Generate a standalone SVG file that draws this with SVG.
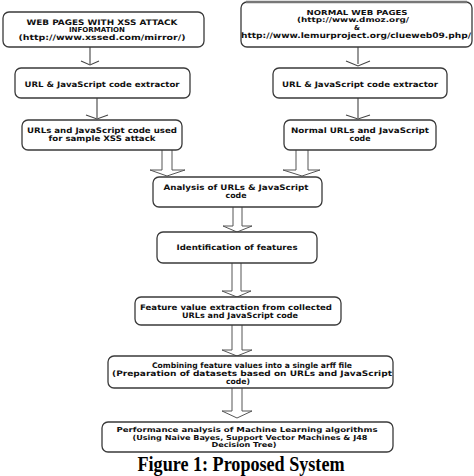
<svg xmlns="http://www.w3.org/2000/svg" width="474" height="476" viewBox="0 0 474 476">
<style>
.box{fill:#fff;stroke:#3a3a3a;stroke-width:1.3}
.t{font-family:"DejaVu Sans","Liberation Sans",sans-serif;font-weight:bold;font-size:7.6px;fill:#111;text-anchor:middle}
.s{font-size:6.8px}
.ln{fill:none;stroke:#444;stroke-width:1.1}
.blk{fill:#fff;stroke:#555;stroke-width:1}
.cap{font-family:"Liberation Serif","Times New Roman",serif;font-weight:bold;font-size:20px;fill:#000;text-anchor:middle}
</style>
<rect width="474" height="476" fill="#fff"/>
<g id="connectors">
  <path class="ln" d="M90,47 V64 M81,61 L90,65 L99,61"/>
  <path class="ln" d="M97,98 V118 M86,115 L97,119 L108,115"/>
  <path class="ln" d="M358,47 V64 M346,61 L358,66 L370,61"/>
  <path class="ln" d="M358,98 V118 M346,115 L358,119 L370,115"/>
  <path class="blk" d="M162,150 V170 H150 L167,176 L185,170 H172 V150"/>
  <path class="blk" d="M296,150 V170 H283 L302,176 L320,170 H308 V150"/>
  <path class="blk" d="M233,207 V226 H223 L237,232 L252,226 H242 V207"/>
  <path class="blk" d="M232,263 V291 H222 L237,297 L251,291 H241 V263"/>
  <path class="blk" d="M232,325 V350 H222 L237,356 L252,350 H242 V325"/>
  <path class="blk" d="M232,388 V411 H222 L237,418 L252,411 H242 V388"/>
</g>
<g id="n_xss_pages">
  <rect class="box" x="3" y="12" width="201" height="35" rx="6"/>
  <text class="t" x="102" y="24.5" textLength="151" lengthAdjust="spacingAndGlyphs">WEB PAGES WITH XSS ATTACK</text>
  <text class="t s" x="97" y="32" textLength="56" lengthAdjust="spacingAndGlyphs">INFORMATION</text>
  <text class="t" x="102" y="40" textLength="167" lengthAdjust="spacingAndGlyphs">(http://www.xssed.com/mirror/)</text>
</g>
<g id="n_normal_pages">
  <rect class="box" x="241" y="2" width="231" height="45" rx="6"/>
  <line x1="246" y1="2" x2="467" y2="2" stroke="#777" stroke-width="2.5"/>
  <text class="t s" x="357" y="14.5" textLength="101" lengthAdjust="spacingAndGlyphs">NORMAL WEB PAGES</text>
  <text class="t s" x="353" y="22" textLength="112" lengthAdjust="spacingAndGlyphs">(http://www.dmoz.org/</text>
  <text class="t s" x="357" y="29.5">&amp;</text>
  <text class="t" x="356" y="38" textLength="230" lengthAdjust="spacingAndGlyphs">http://www.lemurproject.org/clueweb09.php/</text>
</g>
<g id="n_extractor_left">
  <rect class="box" x="15" y="68" width="175" height="30" rx="6"/>
  <text class="t" x="102" y="86.5" textLength="155" lengthAdjust="spacingAndGlyphs">URL &amp; JavaScript code extractor</text>
</g>
<g id="n_extractor_right">
  <rect class="box" x="273" y="68" width="174" height="30" rx="6"/>
  <text class="t" x="360" y="86.5" textLength="156" lengthAdjust="spacingAndGlyphs">URL &amp; JavaScript code extractor</text>
</g>
<g id="n_xss_urls">
  <rect class="box" x="22" y="120" width="160" height="30" rx="6"/>
  <text class="t" x="102" y="133" textLength="150" lengthAdjust="spacingAndGlyphs">URLs and JavaScript code used</text>
  <text class="t" x="102" y="141" textLength="107" lengthAdjust="spacingAndGlyphs">for sample XSS attack</text>
</g>
<g id="n_normal_urls">
  <rect class="box" x="284" y="120" width="152" height="30" rx="6"/>
  <text class="t" x="360" y="133" textLength="138" lengthAdjust="spacingAndGlyphs">Normal URLs and JavaScript</text>
  <text class="t" x="360" y="141" textLength="21" lengthAdjust="spacingAndGlyphs">code</text>
</g>
<g id="n_analysis">
  <rect class="box" x="153" y="177" width="169" height="30" rx="6"/>
  <text class="t" x="236" y="190" textLength="145" lengthAdjust="spacingAndGlyphs">Analysis of URLs &amp; JavaScript</text>
  <text class="t" x="236" y="198" textLength="21" lengthAdjust="spacingAndGlyphs">code</text>
</g>
<g id="n_identification">
  <rect class="box" x="157" y="232" width="160" height="31" rx="6"/>
  <text class="t" x="237" y="250" textLength="121" lengthAdjust="spacingAndGlyphs">Identification of features</text>
</g>
<g id="n_feature_extraction">
  <rect class="box" x="135" y="297" width="206" height="28" rx="6"/>
  <text class="t" x="236" y="310" textLength="192" lengthAdjust="spacingAndGlyphs">Feature value extraction from collected</text>
  <text class="t" x="240" y="318" textLength="116" lengthAdjust="spacingAndGlyphs">URLs and JavaScript code</text>
</g>
<g id="n_combining">
  <rect class="box" x="108" y="356" width="285" height="32" rx="6"/>
  <text class="t" x="252" y="368" textLength="200" lengthAdjust="spacingAndGlyphs">Combining feature values into a single arff file</text>
  <text class="t" x="252" y="376" textLength="280" lengthAdjust="spacingAndGlyphs">(Preparation of datasets based on URLs and JavaScript</text>
  <text class="t" x="238" y="384" textLength="24" lengthAdjust="spacingAndGlyphs">code)</text>
</g>
<g id="n_performance">
  <rect class="box" x="102" y="422" width="291" height="30" rx="6"/>
  <text class="t s" x="247" y="432" textLength="261" lengthAdjust="spacingAndGlyphs">Performance analysis of Machine Learning algorithms</text>
  <text class="t s" x="250" y="439.5" textLength="235" lengthAdjust="spacingAndGlyphs">(Using Naive Bayes, Support Vector Machines &amp; J48</text>
  <text class="t s" x="244" y="447" textLength="65" lengthAdjust="spacingAndGlyphs">Decision Tree)</text>
</g>
<text class="cap" x="241" y="471" textLength="207" lengthAdjust="spacingAndGlyphs">Figure 1: Proposed System</text>
</svg>
